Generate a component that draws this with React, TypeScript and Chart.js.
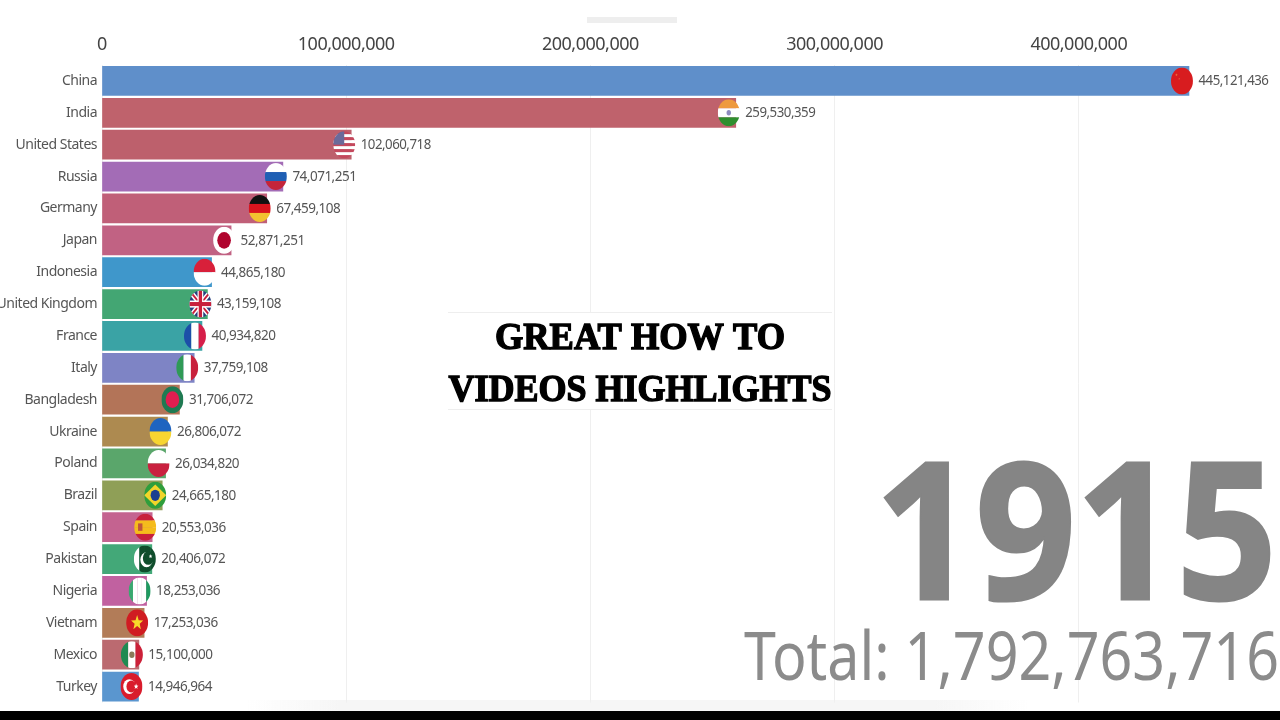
import { useEffect, useRef } from 'react'
import { Chart, registerables } from 'chart.js'

Chart.register(...registerables)

const countries = ['China', 'India', 'United States', 'Russia', 'Germany', 'Japan', 'Indonesia', 'United Kingdom', 'France', 'Italy', 'Bangladesh', 'Ukraine', 'Poland', 'Brazil', 'Spain', 'Pakistan', 'Nigeria', 'Vietnam', 'Mexico', 'Turkey']
const population = [445121436, 259530359, 102060718, 74071251, 67459108, 52871251, 44865180, 43159108, 40934820, 37759108, 31706072, 26806072, 26034820, 24665180, 20553036, 20406072, 18253036, 17253036, 15100000, 14946964]
const barColors = ['#5f8fca', '#bf626c', '#bd606c', '#a36cb6', '#c05f78', '#c16283', '#3f97cb', '#43a673', '#3aa3a5', '#7e84c5', '#b37458', '#ad8a50', '#5aa66b', '#8f9f57', '#c46390', '#43a878', '#c161a0', '#b27c58', '#bb6a70', '#5a96cf']
const tickValues = [0, 100000000, 200000000, 300000000, 400000000]
const year = '1915'
const total = 'Total: 1,792,763,716'
const titleLines = ['GREAT HOW TO', 'VIDEOS HIGHLIGHTS']

const FONT = '"Noto Sans", sans-serif'

type Ctx = CanvasRenderingContext2D

function hStripes(ctx: Ctx, colors: string[]) {
  const h = 2 / colors.length
  colors.forEach((c, i) => {
    ctx.fillStyle = c
    ctx.fillRect(-1, -1 + i * h, 2, h + 0.01)
  })
}

function vStripes(ctx: Ctx, colors: string[]) {
  const w = 2 / colors.length
  colors.forEach((c, i) => {
    ctx.fillStyle = c
    ctx.fillRect(-1 + i * w, -1, w + 0.01, 2)
  })
}

function disc(ctx: Ctx, x: number, y: number, r: number, color: string) {
  ctx.fillStyle = color
  ctx.beginPath()
  ctx.arc(x, y, r, 0, Math.PI * 2)
  ctx.fill()
}

function star(ctx: Ctx, x: number, y: number, r: number, color: string) {
  ctx.fillStyle = color
  ctx.beginPath()
  for (let i = 0; i < 10; i++) {
    const a = -Math.PI / 2 + (i * Math.PI) / 5
    const rr = i % 2 ? r * 0.42 : r
    ctx.lineTo(x + Math.cos(a) * rr, y + Math.sin(a) * rr)
  }
  ctx.closePath()
  ctx.fill()
}

// one painter per country, drawn in a unit circle
const flags: Record<string, (ctx: Ctx) => void> = {
  China: ctx => {
    hStripes(ctx, ['#d81c1f'])
    star(ctx, -0.5, -0.45, 0.12, '#e8703a')
    star(ctx, -0.25, -0.15, 0.08, '#e8703a')
  },
  India: ctx => {
    hStripes(ctx, ['#ee9a3e', '#ffffff', '#2f8f2f'])
    disc(ctx, 0, 0, 0.2, '#8f8cc0')
  },
  'United States': ctx => {
    hStripes(ctx, ['#c4485c', '#fff', '#c4485c', '#fff', '#c4485c', '#fff', '#c4485c', '#fff', '#c4485c'])
    ctx.fillStyle = '#6a6a9a'
    ctx.fillRect(-1, -1, 1, 1)
  },
  Russia: ctx => hStripes(ctx, ['#ffffff', '#1f5fb4', '#c4243a']),
  Germany: ctx => hStripes(ctx, ['#111111', '#d8141e', '#f2c230']),
  Japan: ctx => {
    hStripes(ctx, ['#ffffff'])
    disc(ctx, 0, 0, 0.62, '#b0042e')
  },
  Indonesia: ctx => hStripes(ctx, ['#d8203a', '#ffffff']),
  'United Kingdom': ctx => {
    hStripes(ctx, ['#27407f'])
    ctx.lineCap = 'butt'
    ctx.strokeStyle = '#ffffff'
    ctx.lineWidth = 0.4
    ctx.beginPath()
    ctx.moveTo(-1, -1)
    ctx.lineTo(1, 1)
    ctx.moveTo(1, -1)
    ctx.lineTo(-1, 1)
    ctx.stroke()
    ctx.strokeStyle = '#c8203c'
    ctx.lineWidth = 0.16
    ctx.stroke()
    ctx.fillStyle = '#ffffff'
    ctx.fillRect(-1, -0.26, 2, 0.52)
    ctx.fillRect(-0.26, -1, 0.52, 2)
    ctx.fillStyle = '#c8203c'
    ctx.fillRect(-1, -0.15, 2, 0.3)
    ctx.fillRect(-0.15, -1, 0.3, 2)
  },
  France: ctx => vStripes(ctx, ['#1c4fa8', '#ffffff', '#d61f4a']),
  Italy: ctx => vStripes(ctx, ['#2f9a56', '#ffffff', '#c8203c']),
  Bangladesh: ctx => {
    hStripes(ctx, ['#1f7a52'])
    disc(ctx, 0, 0, 0.62, '#e01e50')
  },
  Ukraine: ctx => hStripes(ctx, ['#1f64c0', '#f7d531']),
  Poland: ctx => hStripes(ctx, ['#ffffff', '#c9213f']),
  Brazil: ctx => {
    hStripes(ctx, ['#2f9e3c'])
    ctx.fillStyle = '#f2d52a'
    ctx.beginPath()
    ctx.moveTo(-1, 0)
    ctx.lineTo(0, -0.8)
    ctx.lineTo(1, 0)
    ctx.lineTo(0, 0.8)
    ctx.closePath()
    ctx.fill()
    disc(ctx, 0, 0, 0.42, '#1c3f8f')
  },
  Spain: ctx => {
    hStripes(ctx, ['#c8203c', '#f5bc1c', '#f5bc1c', '#c8203c'])
    ctx.fillStyle = '#c0553a'
    ctx.fillRect(-0.65, -0.28, 0.4, 0.55)
  },
  Pakistan: ctx => {
    vStripes(ctx, ['#ffffff', '#0f4d2c', '#0f4d2c', '#0f4d2c'])
    disc(ctx, 0.15, 0.05, 0.56, '#ffffff')
    disc(ctx, 0.32, -0.07, 0.5, '#0f4d2c')
    star(ctx, 0.52, -0.2, 0.17, '#ffffff')
  },
  Nigeria: ctx => vStripes(ctx, ['#3aa870', '#ffffff', '#ffffff', '#ffffff', '#1f9a60']),
  Vietnam: ctx => {
    hStripes(ctx, ['#d01c22'])
    star(ctx, 0, 0, 0.58, '#f7d92a')
  },
  Mexico: ctx => {
    vStripes(ctx, ['#1f8a52', '#ffffff', '#cc2038'])
    disc(ctx, 0, 0, 0.24, '#8a7a5a')
  },
  Turkey: ctx => {
    hStripes(ctx, ['#d91c2c'])
    disc(ctx, -0.2, 0, 0.55, '#ffffff')
    disc(ctx, -0.02, 0, 0.44, '#d91c2c')
    star(ctx, 0.42, 0, 0.22, '#ffffff')
  },
}

const barDecorations = {
  id: 'barDecorations',
  afterDatasetsDraw(chart: Chart) {
    const ctx = chart.ctx
    const xScale = chart.scales.x
    const yScale = chart.scales.y
    countries.forEach((name, i) => {
      const end = xScale.getPixelForValue(population[i])
      const mid = yScale.getPixelForValue(i)
      ctx.save()
      ctx.translate(end - 7, mid)
      ctx.scale(11, 13.5)
      ctx.beginPath()
      ctx.arc(0, 0, 1, 0, Math.PI * 2)
      ctx.clip()
      flags[name](ctx)
      ctx.restore()
      ctx.save()
      ctx.font = `13.5px ${FONT}`
      ctx.fillStyle = '#555555'
      ctx.textAlign = 'left'
      ctx.textBaseline = 'middle'
      ctx.fillText(population[i].toLocaleString('en-US'), end + 9.5, mid + 0.5, 70)
      ctx.restore()
    })
  },
}

const overlay = {
  id: 'overlay',
  beforeDraw(chart: Chart) {
    // the source uses a condensed face, tighten the axis text to suit
    ;(chart.ctx as any).letterSpacing = '-0.5px'
  },
  beforeDatasetsDraw(chart: Chart) {
    // soft grey fade along the foot of the frame
    const ctx = chart.ctx
    const fade = ctx.createLinearGradient(245, 0, 1030, 0)
    fade.addColorStop(0, 'rgba(240,240,240,0)')
    fade.addColorStop(0.12, 'rgba(240,240,240,0.6)')
    fade.addColorStop(0.88, 'rgba(240,240,240,0.6)')
    fade.addColorStop(1, 'rgba(240,240,240,0)')
    ctx.save()
    ctx.fillStyle = fade
    ctx.fillRect(245, 700, 785, 11)
    ctx.restore()
  },
  afterDraw(chart: Chart) {
    const ctx = chart.ctx
    ctx.save()
    ;(ctx as any).letterSpacing = '0px'

    // caption panel sits over the grid
    ctx.fillStyle = '#ffffff'
    ctx.fillRect(448, 313, 384, 96)
    ctx.fillStyle = '#eeeeee'
    ctx.fillRect(448, 312, 384, 1)
    ctx.fillRect(448, 409, 384, 1)
    ctx.fillStyle = '#000000'
    ctx.textAlign = 'center'
    ctx.textBaseline = 'alphabetic'
    ctx.font = 'bold 38px "Liberation Serif", serif'
    ctx.strokeStyle = '#000000'
    ctx.lineWidth = 1.4
    ctx.strokeText(titleLines[0], 640, 349, 290)
    ctx.fillText(titleLines[0], 640, 349, 290)
    ctx.strokeText(titleLines[1], 640, 401, 383)
    ctx.fillText(titleLines[1], 640, 401, 383)

    // year and running total
    ctx.fillStyle = '#858585'
    ctx.strokeStyle = '#858585'
    ctx.lineWidth = 3
    ctx.textAlign = 'right'
    ctx.font = `bold 190px ${FONT}`
    ctx.strokeText(year, 1277, 598.5, 402)
    ctx.fillText(year, 1277, 598.5, 402)
    ctx.fillStyle = '#8b8b8b'
    ctx.font = `67px ${FONT}`
    ctx.fillText(total, 1279, 680, 535)

    // strip at the top and the black band of the video frame
    ctx.fillStyle = '#eeeeee'
    ctx.fillRect(587, 17, 90, 6)
    ctx.fillStyle = '#000000'
    ctx.fillRect(0, 711, 1280, 9)
    ctx.restore()
  },
}

export default function App() {
  const canvasRef = useRef<HTMLCanvasElement | null>(null)
  const chartRef = useRef<Chart | null>(null)

  useEffect(() => {
    if (!canvasRef.current) return
    document.body.style.margin = '0'
    const ctx = canvasRef.current.getContext('2d')!

    chartRef.current = new Chart(ctx, {
      type: 'bar',
      data: {
        labels: countries,
        datasets: [
          {
            data: population,
            backgroundColor: barColors,
            barThickness: 29,
          },
        ],
      },
      options: {
        indexAxis: 'y',
        responsive: false,
        animation: false,
        layout: { padding: { bottom: 17.5 } },
        plugins: {
          legend: { display: false },
          tooltip: { enabled: false },
        },
        scales: {
          x: {
            position: 'top',
            min: 0,
            max: 482400000,
            afterBuildTicks: (scale: any) => {
              scale.ticks = tickValues.map(value => ({ value }))
            },
            afterFit: (scale: any) => {
              scale.height = 65
            },
            border: { display: false },
            grid: { color: '#efefef', drawTicks: false },
            ticks: {
              color: '#444444',
              padding: 9,
              maxRotation: 0,
              font: { family: FONT, size: 18 },
              callback: (v: any) => Number(v).toLocaleString('en-US'),
            },
          },
          y: {
            afterFit: (scale: any) => {
              scale.width = 102
            },
            border: { display: false },
            grid: { display: false, drawTicks: false },
            ticks: {
              autoSkip: false,
              color: '#555555',
              padding: 5,
              font: { family: FONT, size: 14 },
            },
          },
        },
      },
      plugins: [barDecorations, overlay],
    })

    return () => chartRef.current?.destroy()
  }, [])

  return <canvas ref={canvasRef} width={1280} height={720} style={{ display: 'block', width: 1280, height: 720 }} />
}
